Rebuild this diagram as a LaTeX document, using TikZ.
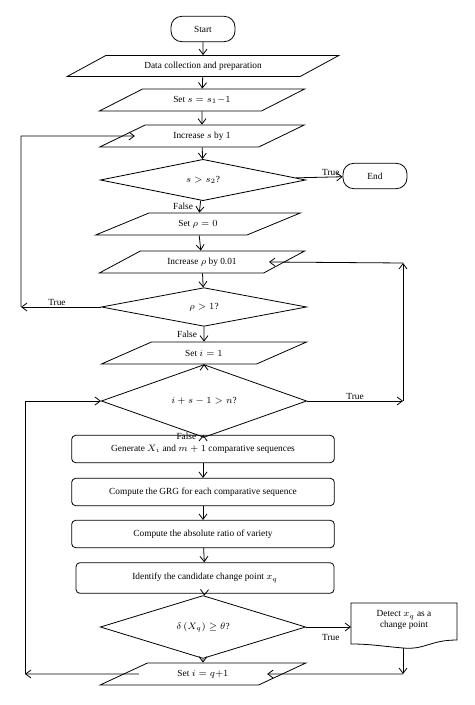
\documentclass[tikz,border=0pt]{standalone}
\usepackage{fontspec}
\setmainfont{Liberation Serif}
\usetikzlibrary{shapes.geometric,arrows.meta}
\begin{document}
\begin{tikzpicture}[x=0.75pt,y=-0.75pt,
  every node/.style={font=\fontsize{7}{8}\selectfont, inner sep=1pt},
  ln/.style={draw, line width=0.6pt},
  arr/.style={ln, -{Straight Barb[length=4pt,width=6pt]}},
  term/.style={ln, rounded corners=8pt, minimum width=48pt, minimum height=19pt},
  para/.style={ln, trapezium, trapezium left angle=25, trapezium right angle=155, trapezium stretches=true, minimum width=154.5pt, minimum height=16.5pt},
  dec/.style={ln, diamond, inner sep=0pt, minimum width=154pt, minimum height=29pt},
  box/.style={ln, rounded corners=3pt, minimum width=197pt, minimum height=20.5pt},
  lab/.style={font=\fontsize{7}{8}\selectfont}
]
\useasboundingbox (0,0) rectangle (474,705);
\node[term] (start) at (203,29) {Start};
\node[para, minimum width=204pt, minimum height=15.75pt] (data) at (203,66) {Data collection and preparation};
\node[para] (sets) at (202,100) {Set $s=s_1{-}1$};
\node[para] (incs) at (202,136) {Increase $s$ by 1};
\node[dec] (d1) at (203,180) {$s>s_2$?};
\node[term] (end) at (375,176) {End};
\node[para] (setr) at (198,224) {Set $\rho=0$};
\node[para] (incr) at (202,262) {Increase $\rho$ by 0.01};
\node[dec] (d2) at (204,307) {$\rho>1$?};
\node[para] (seti) at (204,353) {Set $i=1$};
\node[dec] (d3) at (204,401) {$i+s-1>n$?};
\node[box] (b1) at (203,449) {Generate $X_i$ and $m+1$ comparative sequences};
\node[box] (b2) at (203,492) {Compute the GRG for each comparative sequence};
\node[box] (b3) at (203,534) {Compute the absolute ratio of variety};
\node[box, minimum width=193.5pt, minimum height=23pt] (b4) at (205,578) {Identify the candidate change point $x_q$};
\node[dec] (d4) at (203,627) {$\delta\,(X_q)\geq\theta$?};
\node[para] (setq) at (203,674) {Set $i=q{+}1$};
\node[align=center, inner sep=0pt] (doc) at (404,620) {Detect $x_q$ as a\\change point};
\draw[ln] (351,603) -- (457,603) -- (457,640) .. controls (430,640) and (425,650) .. (403,648) .. controls (380,646) and (370,644) .. (351,644) -- cycle;
\coordinate (docb) at (403,648);
\coordinate (l1) at (21,307);
\coordinate (l2) at (21,136);
\coordinate (r1) at (403,401);
\coordinate (r2) at (403,263);
\coordinate (q1) at (25,674);
\coordinate (q2) at (25,401);
\coordinate (q3) at (403,674);

\draw[arr] (start) -- (data);
\draw[arr] (data) -- (sets);
\draw[arr] (sets) -- (incs);
\draw[arr] (incs) -- (d1);
\draw[arr] (d1) -- node[lab, above, pos=0.75] {True} (end);
\draw[arr] (d1) -- node[lab, left, pos=0.5, xshift=-4pt] {False} (setr);
\draw[arr] (setr) -- (incr);
\draw[arr] (incr) -- (d2);
\draw[arr] (d2.west) -- node[lab, above, pos=0.55] {True} (l1);
\draw[arr] (l1) -- (l2) -- ([xshift=10pt]incs.west);
\draw[arr] (d2) -- node[lab, left, pos=0.5, xshift=-4pt] {False} (seti);
\draw[arr] (seti) -- (d3);
\draw[arr] (d3.east) -- node[lab, above, pos=0.5] {True} (r1);
\draw[arr] (r1) -- (r2);
\draw[arr] (r2) -- ([xshift=-12pt]incr.east);
\draw[arr] (d3) -- node[lab, left, pos=0.5, xshift=-4pt] {False} (b1);
\draw[arr] (b1) -- (b2);
\draw[arr] (b2) -- (b3);
\draw[arr] (b3) -- (b4);
\draw[arr] (b4) -- (d4);
\draw[arr] (d4.east) -- node[lab, below, pos=0.55, yshift=-4pt] {True} (351,627);
\draw[arr] (docb) -- (q3);
\draw[arr] (q3) -- ([xshift=-12pt]setq.east);
\draw[arr] (d4) -- (setq);
\draw[arr] ([xshift=12pt]setq.west) -- (q1);
\draw[arr] (q1) -- (q2) -- (d3.west);
\end{tikzpicture}
\end{document}
